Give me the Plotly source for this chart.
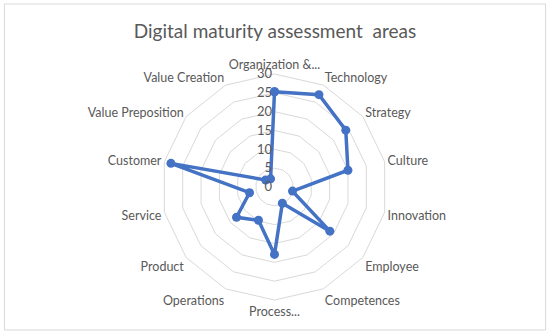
import plotly.graph_objects as go

categories = ["Organization &...", "Technology", "Strategy", "Culture", "Innovation",
              "Employee", "Competences", "Process...", "Operations", "Product",
              "Service", "Customer", "Value Preposition", "Value Creation"]
values = [25.3, 27.2, 24.2, 20, 4.9, 18.8, 4.8, 17.9, 9.8, 12.9, 6.8, 28.2, 3, 2.4]
radial_ticks = [0, 5, 10, 15, 20, 25, 30]

W, H = 550, 334
cx, cy, R = 274.5, 187, 113

fig = go.Figure()
fig.add_trace(go.Scatterpolar(
    r=values + values[:1],
    theta=categories + categories[:1],
    mode="lines+markers",
    line=dict(color="#4472C4", width=3.5),
    marker=dict(color="#4472C4", size=9),
    showlegend=False,
))

FONT = "Lato, Open Sans, sans-serif"
fig.update_layout(
    width=W, height=H,
    margin=dict(l=0, r=0, t=0, b=0),
    paper_bgcolor="white",
    plot_bgcolor="white",
    font=dict(family=FONT, color="#595959", size=12.5),
    title=dict(text="Digital maturity assessment  areas", x=0.5, xanchor="center",
               y=1 - 31 / H, yanchor="middle",
               font=dict(size=19, color="#595959", family=FONT)),
    polar=dict(
        domain=dict(x=[(cx - R) / W, (cx + R) / W], y=[(H - cy - R) / H, (H - cy + R) / H]),
        bgcolor="white",
        gridshape="linear",
        angularaxis=dict(direction="clockwise", rotation=90, showgrid=False,
                         showline=True, linecolor="#d9d9d9", linewidth=1,
                         ticks="", tickfont=dict(size=12.5, color="#595959")),
        radialaxis=dict(range=[0, 30], tickvals=radial_ticks, angle=90, tickangle=90,
                        side="counterclockwise", showline=False, ticks="",
                        ticksuffix="\u2002",
                        gridcolor="#d9d9d9", gridwidth=1,
                        tickfont=dict(size=13, color="#595959")),
    ),
    shapes=[dict(type="rect", xref="paper", yref="paper", x0=0.008, x1=0.992, y0=0.012, y1=0.988,
                 line=dict(color="#d9d9d9", width=1))],
)

fig.write_html("out.html", config={"displayModeBar": False},
               post_script="document.body.style.margin='0';")
